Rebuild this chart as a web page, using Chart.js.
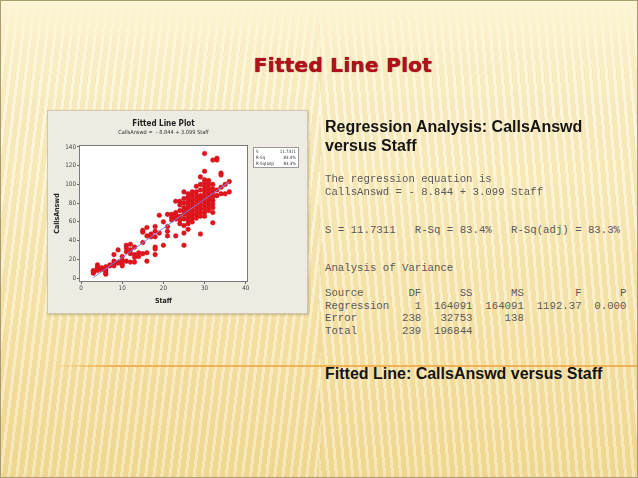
<!DOCTYPE html>
<html>
<head>
<meta charset="utf-8">
<script src="https://cdn.jsdelivr.net/npm/chart.js@4.4.1/dist/chart.umd.min.js"></script>
<style>
  html, body { margin:0; padding:0; }
  body { width:638px; height:478px; overflow:hidden; position:relative; font-family:"Liberation Sans", Arial, sans-serif; }
  #slide { position:absolute; left:0; top:0; width:636px; height:476px; border:1px solid #a99c70;
    background: linear-gradient(to bottom, #fdf5d4 0%, #fcf0c6 35%, #f8e6ad 70%, #f3dc98 100%); overflow:hidden; }
  .stripes { position:absolute; top:0; height:476px;
    -webkit-mask-image: linear-gradient(to bottom, transparent 0px, rgba(0,0,0,0.6) 45px, #000 110px, #000 100%);
    mask-image: linear-gradient(to bottom, transparent 0px, rgba(0,0,0,0.6) 45px, #000 110px, #000 100%); }
  #stL { left:0; width:320px; background: repeating-linear-gradient(97deg, rgba(255,255,255,0.30) 0 3px, rgba(214,176,90,0.13) 3px 8px); }
  #stR { left:318px; width:320px; background: repeating-linear-gradient(85deg, rgba(255,255,255,0.30) 0 3px, rgba(214,176,90,0.13) 3px 8px); }
  #orange { position:absolute; left:50px; top:364px; width:590px; height:2px;
    background: linear-gradient(to right, rgba(240,170,70,0), rgba(240,170,70,0.85) 60px, rgba(240,170,70,0.85)); }
  #title { position:absolute; left:0; width:686px; top:53px; text-align:center; font-family:"DejaVu Sans", sans-serif; font-weight:bold;
    font-size:20px; color:#b3111a; letter-spacing:0.3px; text-shadow: 0 0 1px #5a0000; }
  #imgbox { position:absolute; left:47px; top:110px; width:259px; height:202px; background:#eeebe2; border:1px solid #cfc7ad;
    box-shadow: 1px 1px 2px rgba(120,100,50,0.35); }
  #chartwrap { position:absolute; left:47px; top:110px; width:260px; height:203px; }
  #ctitle { position:absolute; left:79px; width:169px; top:119px; text-align:center; font-family:"DejaVu Sans Condensed","DejaVu Sans",sans-serif; font-weight:bold; font-size:8px; color:#222; }
  #csub { position:absolute; left:79px; width:169px; top:129px; text-align:center; font-family:"DejaVu Sans Condensed","DejaVu Sans",sans-serif; font-size:5.6px; color:#333; }
  #statbox { position:absolute; left:253px; top:147px; width:46px; height:21px; background:#fff; border:1px solid #999;
    font-family:"DejaVu Sans Condensed","DejaVu Sans",sans-serif; font-size:4.4px; color:#333; line-height:6.2px; padding:1px 2px; box-sizing:border-box; }
  #statbox div { display:flex; justify-content:space-between; }
  .hd { position:absolute; left:325px; font-weight:bold; font-size:16px; color:#151515; line-height:19px; }
  .mono { position:absolute; left:325px; font-family:"Liberation Mono","Courier New",monospace; font-size:10.7px; color:#5a5a5a; white-space:pre; line-height:12.7px; }
</style>
</head>
<body>
<div id="slide">
  <div class="stripes" id="stL"></div>
  <div class="stripes" id="stR"></div>
  <div id="orange"></div>
</div>
<div id="title">Fitted Line Plot</div>
<div id="imgbox"></div>
<div id="chartwrap"><canvas id="c"></canvas></div>
<div id="ctitle">Fitted Line Plot</div>
<div id="csub">CallsAnswd = &nbsp;- 8.844 + 3.099 Staff</div>
<div id="statbox">
  <div><span>S</span><span>11.7311</span></div>
  <div><span>R-Sq</span><span>83.4%</span></div>
  <div><span>R-Sq(adj)</span><span>83.3%</span></div>
</div>
<div class="hd" style="top:117px;">Regression Analysis: CallsAnswd<br>versus Staff</div>
<div class="mono" style="top:173px;">The regression equation is
CallsAnswd = - 8.844 + 3.099 Staff</div>
<div class="mono" style="top:224px;">S = 11.7311   R-Sq = 83.4%   R-Sq(adj) = 83.3%</div>
<div class="mono" style="top:262px;">Analysis of Variance</div>
<div class="mono" style="top:287px;">Source       DF      SS      MS        F      P
Regression    1  164091  164091  1192.37  0.000
Error       238   32753     138
Total       239  196844</div>
<div class="hd" style="top:364px;">Fitted Line: CallsAnswd versus Staff</div>

<script>
// ---- data ----
const staff = [
  3,3,3,
  4,4,4,4,
  5,5,
  6,6,6,6,6,
  7,7,
  8,8,8,8,
  9,9,9,
  10,10,10,10,
  11,11,11,11,
  12,12,12,12,
  13,13,13,13,
  14,14,
  15,15,15,15,
  16,16,16,16,
  17,17,
  18,18,18,18,18,18,
  19,19,
  20,20,
  21,21,21,21,
  22,22,22,
  23,23,23,23,23,
  24,24,24,24,24,24,
  25,25,25,25,25,25,25,25,25,25,
  26,26,26,26,26,26,26,26,26,26,
  27,27,27,27,27,27,27,27,27,
  28,28,28,28,28,28,28,28,28,
  29,29,29,29,29,29,29,29,29,29,29,
  30,30,30,30,30,30,30,30,30,30,30,30,30,
  31,31,31,31,31,31,31,31,31,
  32,32,32,32,32,32,32,32,32,32,
  33,33,33,33,
  34,34,34,34,
  35,35,
  36,36
];
const calls = [
  5,7,8,
  14,12,10,8,
  9,11,
  4,6,8,10,12,
  13,14,
  25,18,15,13,
  30,17,16,
  23,19,15,13,
  35,32,28,18,
  36,30,26,17,
  33,25,22,17,
  27,23,
  51,49,38,26,
  54,45,27,18,
  47,44,
  55,50,44,33,31,25,
  67,48,
  60,35,
  68,55,50,45,
  68,65,62,
  82,70,67,63,45,
  82,78,72,66,62,58,
  92,85,80,75,72,68,63,56,48,35,
  90,86,82,78,74,70,66,62,58,52,
  92,88,84,80,76,72,68,64,60,
  98,92,88,84,80,76,72,68,64,
  108,100,94,88,85,82,78,74,70,66,47,
  133,114,105,102,98,94,90,86,82,78,74,70,66,
  104,100,96,92,88,84,80,76,72,
  126,100,95,91,87,83,79,75,70,59,
  128,126,94,88,
  112,110,97,90,
  100,90,
  103,92
];
const fitStaff = [3, 36];
const fitCalls = [0.45, 102.7];
const xTicks = [0, 10, 20, 30, 40];
const yTicks = [0, 20, 40, 60, 80, 100, 120, 140];
const xLabel = 'Staff';
const yLabel = 'CallsAnswd';

const points = staff.map((s, i) => ({ x: s, y: calls[i] }));
const fitPts = fitStaff.map((s, i) => ({ x: s, y: fitCalls[i] }));

const areaPlugin = {
  id: 'area',
  beforeDraw(chart) {
    const { ctx, chartArea: a } = chart;
    ctx.save();
    ctx.fillStyle = '#ffffff';
    ctx.fillRect(a.left, a.top, a.right - a.left, a.bottom - a.top);
    ctx.restore();
  },
  afterDraw(chart) {
    const { ctx, chartArea: a } = chart;
    ctx.save();
    ctx.strokeStyle = '#7a7a7a';
    ctx.lineWidth = 1;
    ctx.strokeRect(a.left + 0.5, a.top + 0.5, a.right - a.left - 1, a.bottom - a.top - 1);
    ctx.restore();
  }
};

const tickFont = { family: "'DejaVu Sans Condensed','DejaVu Sans',sans-serif", size: 6.3 };
const titleFont = { family: "'DejaVu Sans Condensed','DejaVu Sans',sans-serif", size: 7, weight: 'bold' };

new Chart(document.getElementById('c'), {
  data: {
    datasets: [
      { type: 'line', data: fitPts, borderColor: '#7f7fe6', borderWidth: 1, pointRadius: 0, fill: false, order: 0 },
      { type: 'scatter', data: points, backgroundColor: '#e3141c', borderColor: '#c80f17', borderWidth: 0.5, pointRadius: 2.3, order: 1 }
    ]
  },
  options: {
    responsive: true,
    maintainAspectRatio: false,
    animation: false,
    events: [],
    layout: { padding: { top: 35, right: 59, left: 0, bottom: 0 } },
    plugins: { legend: { display: false }, tooltip: { enabled: false } },
    scales: {
      x: {
        type: 'linear', min: -0.49, max: 40.55,
        afterBuildTicks: s => { s.ticks = xTicks.map(v => ({ value: v })); },
        afterFit: s => { s.height = 31; },
        ticks: { font: tickFont, color: '#444', padding: 1, maxRotation: 0 },
        grid: { drawOnChartArea: false, tickLength: 2, color: '#666' },
        border: { display: false },
        title: { display: true, text: xLabel, font: titleFont, color: '#222', padding: { top: 0, bottom: 7.8 } }
      },
      y: {
        type: 'linear', min: -4.27, max: 142.1,
        afterBuildTicks: s => { s.ticks = yTicks.map(v => ({ value: v })); },
        afterFit: s => { s.width = 32; },
        ticks: { font: tickFont, color: '#444', padding: 1 },
        grid: { drawOnChartArea: false, tickLength: 2, color: '#666' },
        border: { display: false },
        title: { display: true, text: yLabel, font: titleFont, color: '#222', padding: { top: 6, bottom: 0 } }
      }
    }
  },
  plugins: [areaPlugin]
});
</script>
</body>
</html>
